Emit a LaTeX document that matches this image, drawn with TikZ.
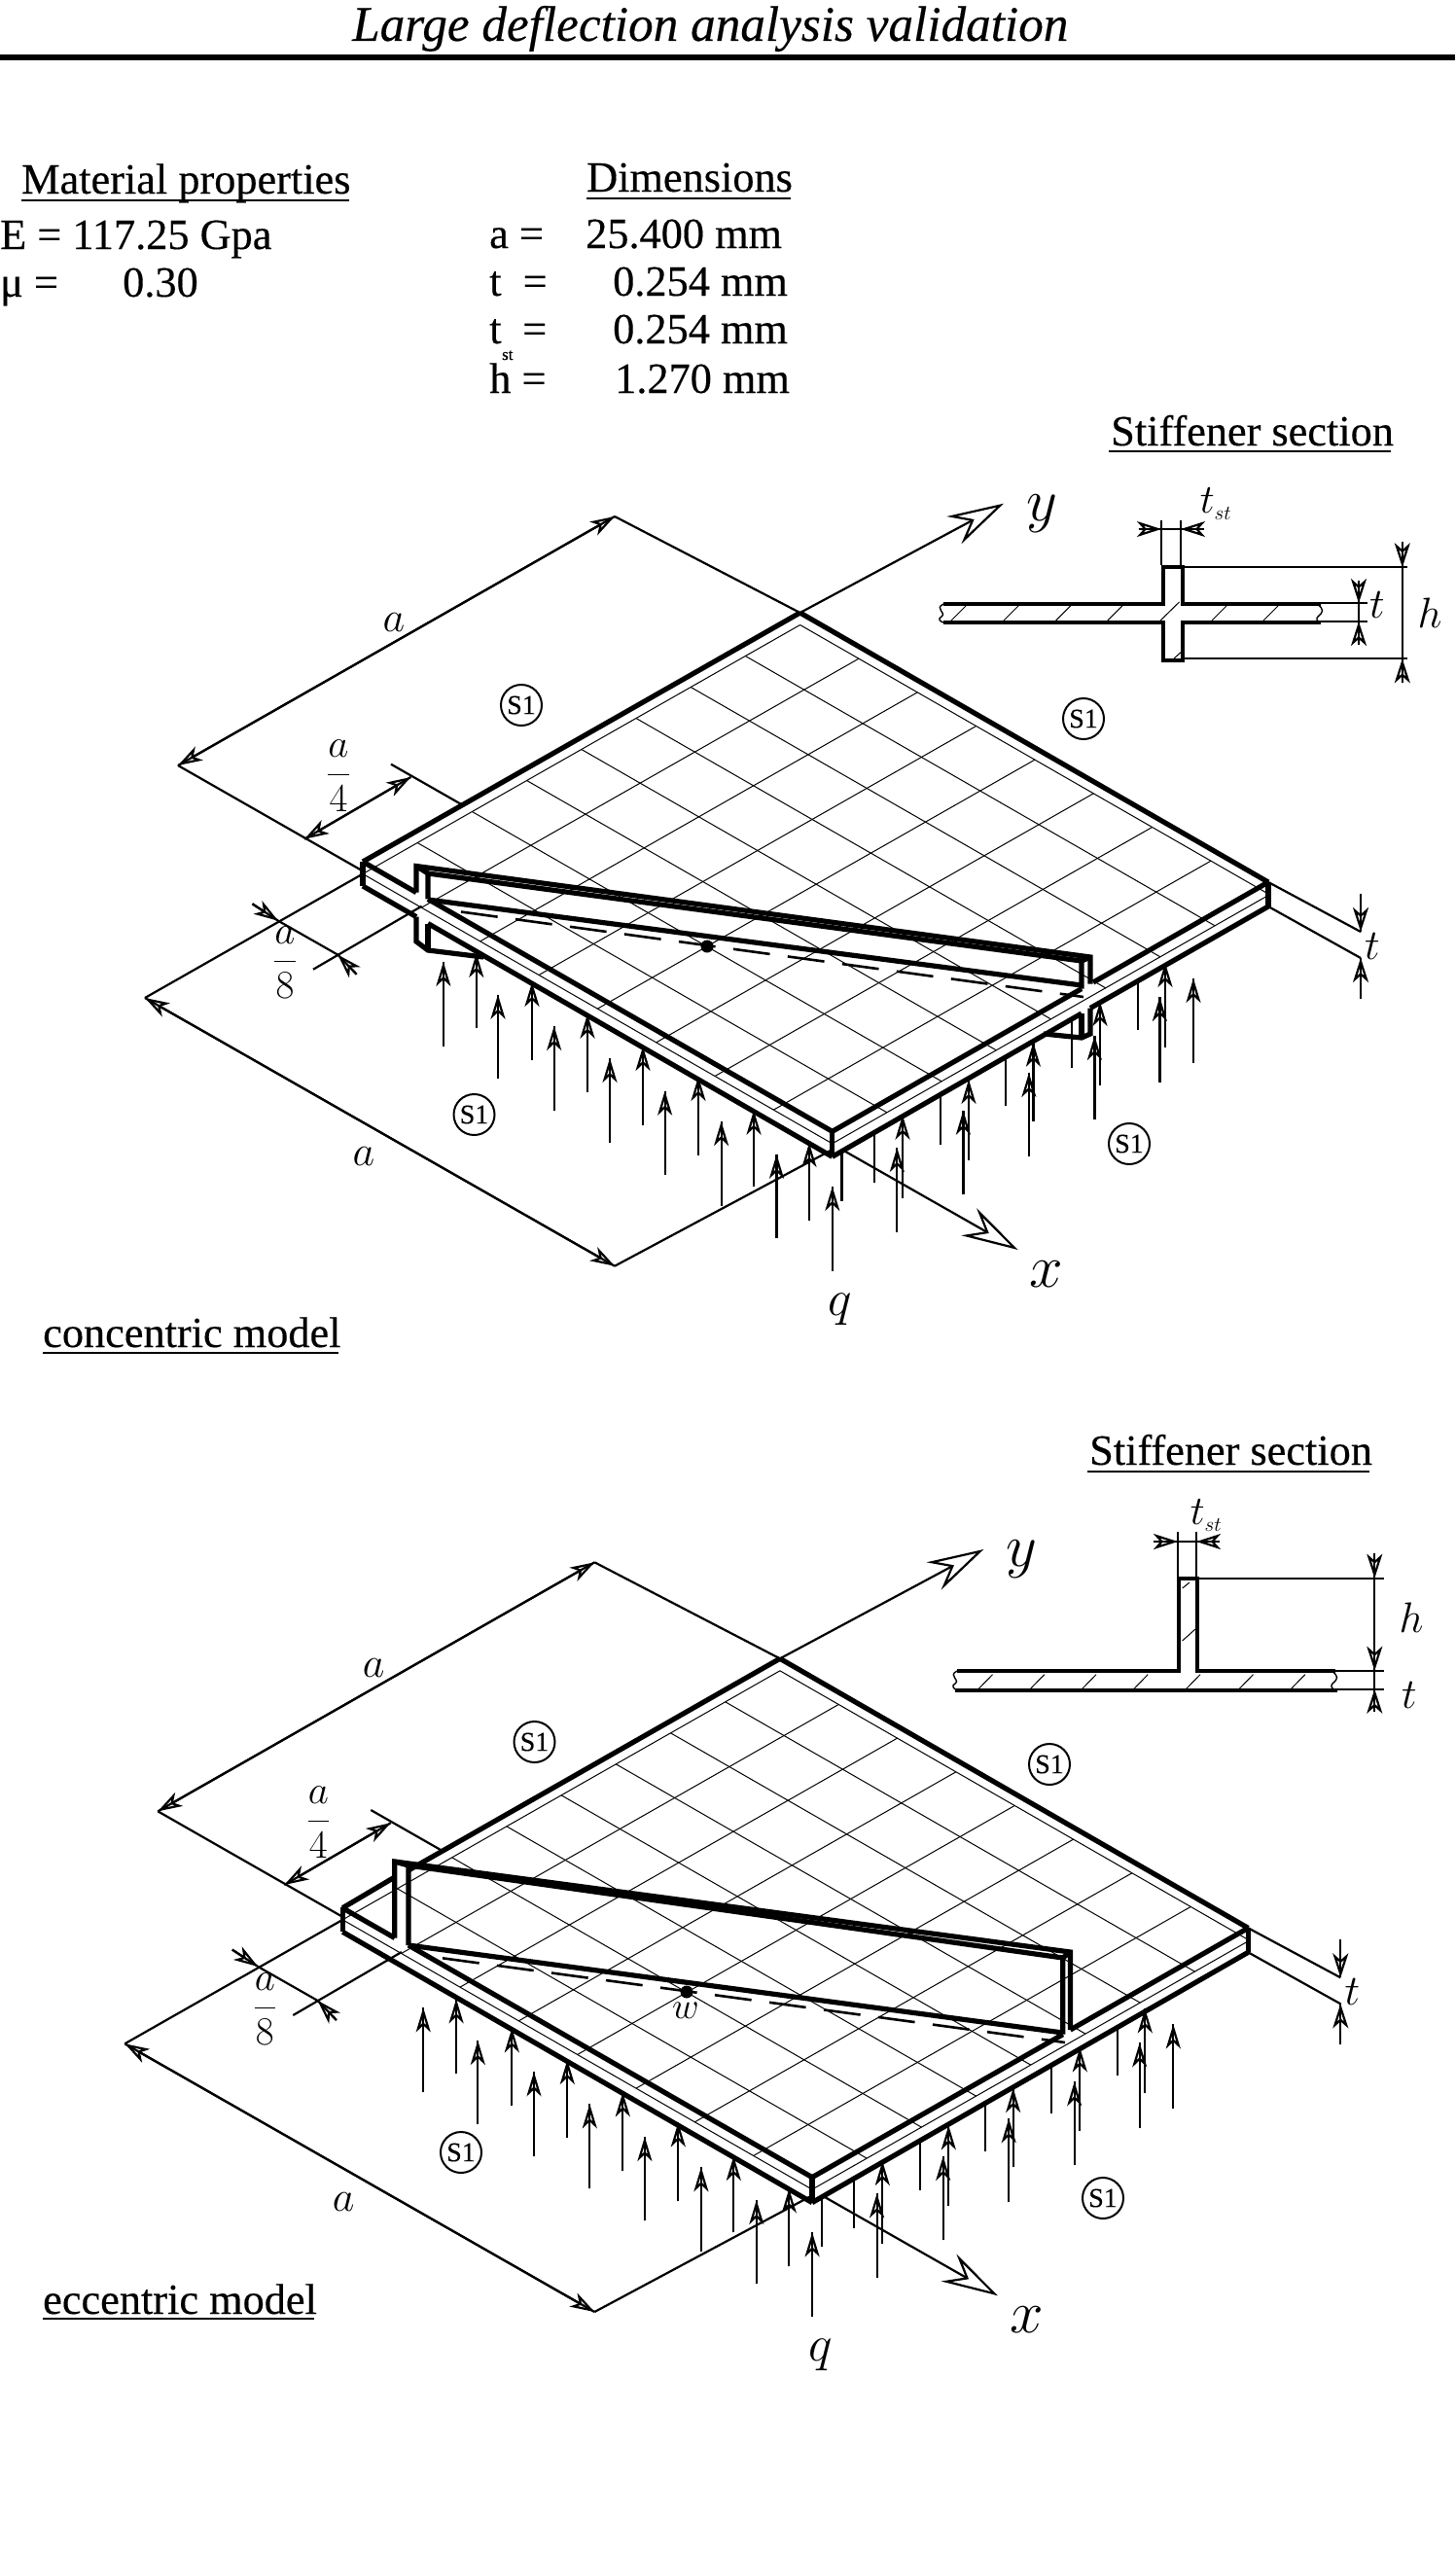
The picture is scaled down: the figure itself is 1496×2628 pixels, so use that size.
\documentclass[tikz,border=0pt]{standalone}
\usepackage{fix-cm}
\usepackage[no-math]{fontspec}
\setmainfont[FakeBold=0.3]{Liberation Serif}
\usetikzlibrary{arrows.meta}
\tikzset{
	edgeline/.style={line width=5.2pt,line join=miter},
	gridline/.style={line width=1pt},
	dimline/.style={line width=2.2pt},
	thinline/.style={line width=1.4pt},
	dimtip/.style={-{Stealth[open,length=25pt,width=16pt,inset=7pt]},postaction={draw,-}},
	dimtips/.style={{Stealth[open,length=25pt,width=16pt,inset=7pt]}-{Stealth[open,length=25pt,width=16pt,inset=7pt]},postaction={draw,-}},
	loadtip/.style={line width=2.2pt,-{Stealth[open,length=25pt,width=15pt,inset=7pt]},postaction={draw,-}},
	axistip/.style={line width=2.2pt,-{Stealth[open,length=58pt,width=32pt,inset=20pt]}},
	txt/.style={anchor=base west,inner sep=0pt,font=\fontsize{44.3}{50}\selectfont},
	lbl/.style={inner sep=0pt,font=\fontsize{#1}{#1}\selectfont},
	seal/.style={draw,circle,line width=2pt,minimum size=42pt,inner sep=0pt,font=\fontsize{28}{28}\selectfont},
	rulerline/.style={line width=2.8pt},
	plate/.pic={
		% mid surface grid
		\foreach \i in {0,...,8} {
			\draw [gridline] (373+56.2*\i,898.5-32*\i) -- (855.7+56.2*\i,1175.8-32*\i);
			\draw [gridline] (373+60.34*\i,898.5+34.66*\i) -- (822.6+60.34*\i,642.5+34.66*\i);
		}
		% pressure
		\foreach \px/\tipy/\endy in {455.9/989/1076,489.8/980/1057,512/1022.7/1109,547/1010/1090,569.7/1055/1142,604/1042.7/1122.7,627/1088/1175,661/1076/1157,683.6/1121.7/1208,718/1107/1188,741.6/1153/1240,775/1141.7/1220,798.5/1186.7/1273,832/1175/1255,855.8/1220/1306.7,922.3/1180/1266.7,928/1146.7/1231.7,990.4/1141.7/1228,996/1110/1192.7,1057.9/1103/1189,1062.4/1071.7/1153,1125.4/1065/1150.7,1131/1030/1115.7,1192.4/1025/1112.7,1198/990/1076.7,1227/1006/1092.7}
			\draw [loadtip] (\px,\endy) -- (\px,\tipy);
		\foreach \px/\tipy/\endy in {865.5/1185/1235,899/1165/1215.7,967/1126/1176.7,1034/1088/1136.7,1102/1048/1098,1170/1010/1059}
			\draw [dimline] (\px,\endy) -- (\px,\tipy);
		% plate edges common to both models
		\draw [edgeline] (822.6,630) -- (1304,907);
		\draw [edgeline] (373,886) -- (373,911);
		\draw [edgeline] (1304,907) -- (1304,932);
		\draw [edgeline] (855.7,1163.3) -- (855.7,1189.3);
		% axes
		\draw [axistip] (822.6,630) -- (1032,517.7);
		\draw [axistip] (867.5,1183) -- (1046.7,1285);
		\node [lbl=62] (ylabel) at (1071,528) {$y$};
		\node [lbl=62] (xlabel) at (1076,1310) {$x$};
		\node [lbl=52] (qlabel) at (864,1346) {$q$};
		% dimensions a
		\draw [dimline] (183,787) -- (372,895);
		\draw [dimline] (632,531) -- (822.6,630);
		\draw [dimline,dimtips] (183,787) -- (632,531);
		\draw [dimline] (149,1026) -- (373,898.5);
		\draw [dimline] (632,1301.7) -- (855.7,1182);
		\draw [dimline,dimtips] (149,1026) -- (632,1301.7);
		\node [lbl=44] (atop) at (405,640) {$a$};
		\node [lbl=44] (abot) at (374,1189) {$a$};
		% dimension a/4
		\draw [dimline] (402,785.7) -- (473.8,826.7);
		\draw [dimline,dimtips] (313,862.7) -- (422.4,799);
		\node [lbl=41] (aquarter) at (348,798) {$\displaystyle\frac{a}{4}$};
		% dimension a/8
		\draw [dimline] (322,996.7) -- (433.6,931.7);
		\draw [dimline,dimtip] (259.5,929.3) -- (286,946.7);
		\draw [dimline,dimtip] (366.6,1001.7) -- (347.4,981.7);
		\draw [dimline] (286,946.7) -- (347.4,981.7);
		\node [lbl=41] (aeighth) at (293,990) {$\displaystyle\frac{a}{8}$};
		% dimension t
		\draw [dimline] (1304,907) -- (1399,958);
		\draw [dimline] (1304,932) -- (1399,985);
		\draw [dimline,dimtip] (1399,919) -- (1399,958);
		\draw [dimline,dimtip] (1399,1026.7) -- (1399,985);
		\node [lbl=44] (tlabel) at (1411,973) {$t$};
	}
}
\begin{document}
\begin{tikzpicture}[x=1pt,y=-1pt]
	\useasboundingbox (0,0) rectangle (1496,2628);

	% title
	\node [txt,font=\fontsize{51.2}{55}\selectfont\itshape] (title) at (362,42) {Large deflection analysis validation};
	\draw [line width=6pt] (0,59) -- (1496,59);

	% material properties
	\node [txt] (matprop) at (22,199) {Material properties};
	\draw [rulerline] (22,206) -- (359,206);
	\node [txt] (emod) at (0,256) {E = 117.25 Gpa};
	\node [txt] (mu) at (0,305) {μ =};
	\node [txt] (muval) at (126,305) {0.30};

	% dimensions
	\node [txt] (dimhead) at (603,197) {Dimensions};
	\draw [rulerline] (603,204) -- (813,204);
	\node [txt] (aname) at (503,255) {a =};
	\node [txt] (aval) at (602,255) {25.400 mm};
	\node [txt] (tname) at (503,304) {t\ \ =};
	\node [txt] (tval) at (630,304) {0.254 mm};
	\node [txt] (tstname) at (503,353) {t};
	\node [txt,font=\fontsize{17}{17}\selectfont] (tstsub) at (516,370) {st};
	\node [txt] (tsteq) at (537,353) {=};
	\node [txt] (tstval) at (630,353) {0.254 mm};
	\node [txt] (hname) at (503,404) {h =};
	\node [txt] (hval) at (632,404) {1.270 mm};

	% concentric model
	\pic (up) at (0,0) {plate};
	\draw [edgeline] (373,886) -- (822.6,630);
	\draw [edgeline] (373,886) -- (428,917.6);
	\draw [edgeline] (440,924.4) -- (855.7,1163.3);
	\draw [edgeline] (855.7,1163.3) -- (1112,1016.6);
	\draw [edgeline] (1124,1010) -- (1304,907);
	\draw [edgeline] (373,911) -- (428,942.6);
	\draw [edgeline] (440,949.5) -- (855.7,1189.3);
	\draw [edgeline] (855.7,1189.3) -- (1112,1042);
	\draw [edgeline] (1121,1036.5) -- (1304,932);
	% stiffener
	\draw [edgeline] (428,917.6) -- (428,890.5) -- (1121,984) -- (1121,1011.5);
	\draw [edgeline] (440,924.4) -- (440,898) -- (1112,988) -- (1112,1016.6);
	\draw [edgeline] (428,890.5) -- (440,898);
	\draw [edgeline] (1121,984) -- (1112,988);
	\draw [edgeline] (440,925) -- (1112,1013);
	\draw [edgeline] (428,942.6) -- (428,968) -- (440,977) -- (497,984);
	\draw [edgeline] (440,949.5) -- (440,977);
	\draw [edgeline] (1121,1036.5) -- (1121,1063) -- (1112,1067) -- (1073,1063);
	\draw [edgeline] (1112,1042) -- (1112,1067);
	\draw [line width=2.6pt,dash pattern=on 38pt off 18.5pt] (474,937.5) -- (1114,1025);
	\fill (727,973) circle (6.5);
	\node [seal] (sone) at (536,725) {S1};
	\node [seal] (stwo) at (1114,739) {S1};
	\node [seal] (sthree) at (487.5,1146) {S1};
	\node [seal] (sfour) at (1161,1176) {S1};
	\node [txt] (capup) at (44,1385) {concentric model};
	\draw [rulerline] (44,1391) -- (348,1391);

	% section of the concentric model
	\node [txt] (secup) at (1142,458) {Stiffener section};
	\draw [rulerline] (1140,464) -- (1430,464);
	\draw [line width=4.4pt] (970,621) -- (1196,621) -- (1196,583) -- (1216,583) -- (1216,621) -- (1358,621);
	\draw [line width=4.4pt] (970,640) -- (1196,640) -- (1196,679) -- (1216,679) -- (1216,640) -- (1358,640);
	\draw [thinline] (970,621) .. controls (960,626) and (974,630) .. (968,634) .. controls (964,636) and (966,639) .. (970,640);
	\draw [thinline] (1354,621) .. controls (1362,626) and (1360,630) .. (1356,633) .. controls (1352,636) and (1354,639) .. (1358,640);
	\foreach \px in {978,1032,1085.6,1138.8,1246,1299}
		\draw [gridline] (\px,638) -- (\px+15,623);
	\draw [gridline] (1193,638) -- (1212.5,619);
	\draw [gridline] (1207,677) -- (1216,669);
	\draw [thinline] (1194,535) -- (1194,581);
	\draw [thinline] (1214,535) -- (1214,581);
	\draw [dimline,dimtip] (1170.7,544) -- (1194,544);
	\draw [dimline,dimtip] (1237.6,544) -- (1214,544);
	\draw [thinline] (1194,544) -- (1214,544);
	\node [lbl=42] (tstup) at (1250,518) {$t_{\scriptscriptstyle st}$};
	\draw [dimline] (1216,583.3) -- (1447,583.3);
	\draw [dimline] (1216,677.3) -- (1447,677.3);
	\draw [dimline,dimtip] (1441.8,557) -- (1441.8,583.3);
	\draw [dimline,dimtip] (1441.8,701.7) -- (1441.8,677.3);
	\draw [dimline] (1441.8,583.3) -- (1441.8,677.3);
	\node [lbl=44] (hup) at (1470,630) {$h$};
	\draw [thinline] (1358,620) -- (1406,620);
	\draw [thinline] (1358,639) -- (1406,639);
	\draw [dimline,dimtip] (1397,596.7) -- (1397,620);
	\draw [dimline,dimtip] (1397,662.7) -- (1397,639);
	\draw [thinline] (1397,620) -- (1397,639);
	\node [lbl=44] (tup) at (1416,622) {$t$};

	% eccentric model
	\pic (low) at (-20.7,1075.3) {plate};
	\draw [edgeline] (352.2,1961.7) -- (405.8,1930);
	\draw [edgeline] (420,1923) -- (801.9,1705.3);
	\draw [edgeline] (352.2,1961.7) -- (405.8,1992.5);
	\draw [edgeline] (420,2000) -- (835,2238.6);
	\draw [edgeline] (835,2238.6) -- (1092.8,2091.7);
	\draw [edgeline] (1100.4,2087) -- (1283.3,1982.3);
	\draw [edgeline] (352.3,1986.3) -- (835,2264.6);
	\draw [edgeline] (835,2264.6) -- (1283.3,2007.3);
	% stiffener
	\draw [edgeline] (405.8,1992.5) -- (405.8,1914) -- (1100.4,2007) -- (1100.4,2087);
	\draw [edgeline] (420,2000) -- (420,1918) -- (1092.8,2013) -- (1092.8,2091.7);
	\draw [edgeline] (405.8,1914) -- (420,1918);
	\draw [edgeline] (1100.4,2007) -- (1092.8,2013);
	\draw [edgeline] (420,2000) -- (1092.8,2090);
	\draw [line width=2.6pt,dash pattern=on 38pt off 18.5pt] (455,2013.3) -- (1095,2100);
	\fill (706,2048) circle (6.5);
	\node [lbl=38] (wlabel) at (705,2067) {$w$};
	\node [seal] (sfive) at (549.5,1791) {S1};
	\node [seal] (ssix) at (1079,1814) {S1};
	\node [seal] (sseven) at (474,2213) {S1};
	\node [seal] (seight) at (1134,2260) {S1};
	\node [txt] (caplow) at (44,2379) {eccentric model};
	\draw [rulerline] (44,2384) -- (323,2384);

	% section of the eccentric model
	\node [txt] (seclow) at (1120,1506) {Stiffener section};
	\draw [rulerline] (1118,1513) -- (1408,1513);
	\draw [line width=4.4pt] (984,1718) -- (1212,1718) -- (1212,1623) -- (1231,1623) -- (1231,1718) -- (1373,1718);
	\draw [line width=4.4pt] (982,1738) -- (1375,1738);
	\draw [thinline] (984,1718) .. controls (974,1723) and (988,1727) .. (982,1731) .. controls (978,1733) and (980,1736) .. (984,1738);
	\draw [thinline] (1369,1718) .. controls (1377,1723) and (1375,1727) .. (1371,1730) .. controls (1367,1733) and (1369,1736) .. (1373,1738);
	\foreach \px in {1006.5,1059.8,1113,1166.2,1220,1274.5,1327.8}
		\draw [gridline] (\px,1736) -- (\px+14,1721.7);
	\draw [gridline] (1215.6,1687) -- (1229,1675);
	\draw [gridline] (1215.6,1633) -- (1223,1627);
	\draw [thinline] (1211,1575) -- (1211,1621);
	\draw [thinline] (1230,1575) -- (1230,1621);
	\draw [dimline,dimtip] (1186.3,1585) -- (1211,1585);
	\draw [dimline,dimtip] (1253.6,1585) -- (1230,1585);
	\draw [thinline] (1211,1585) -- (1230,1585);
	\node [lbl=42] (tstlow) at (1240,1558) {$t_{\scriptscriptstyle st}$};
	\draw [dimline] (1231,1622.7) -- (1423,1622.7);
	\draw [dimline] (1373,1717.7) -- (1423,1717.7);
	\draw [dimline] (1375,1736.7) -- (1423,1736.7);
	\draw [dimline,dimtip] (1413.3,1597) -- (1413.3,1622.7);
	\draw [dimline,dimtip] (1413.3,1690) -- (1413.3,1717.7);
	\draw [dimline,dimtip] (1413.3,1760) -- (1413.3,1736.7);
	\draw [dimline] (1413.3,1622.7) -- (1413.3,1695);
	\draw [dimline] (1413.3,1717.7) -- (1413.3,1736.7);
	\node [lbl=44] (hlow) at (1451,1663) {$h$};
	\node [lbl=44] (tlow) at (1449,1743) {$t$};
\end{tikzpicture}
\end{document}
